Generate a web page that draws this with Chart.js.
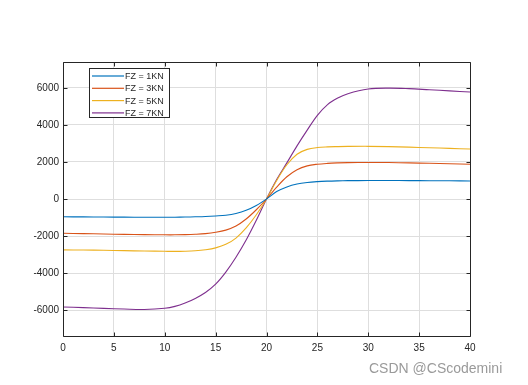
<!DOCTYPE html>
<html>
<head>
<meta charset="utf-8">
<script src="https://cdn.jsdelivr.net/npm/chart.js@4.4.1/dist/chart.umd.min.js"></script>
<style>
  html, body { margin: 0; padding: 0; background: #fff; }
  #wrap { position: relative; width: 528px; height: 385px; }
  #wm { position: absolute; left: 369px; top: 360px; font-family: "Liberation Sans", Arial, sans-serif; font-size: 14px; color: #9a9a9a; white-space: nowrap; }
</style>
</head>
<body>
<div id="wrap">
  <canvas id="c" width="528" height="385"></canvas>
  <div id="wm">CSDN @CScodemini</div>
</div>
<script>
const xs = [0,2,4,6,8,10,11,12,13,14,15,16,17,18,19,20,21,22,23,24,25,26,27,28,30,32,34,36,38,40];
const labels = ['FZ = 1KN', 'FZ = 3KN', 'FZ = 5KN', 'FZ = 7KN'];
const fz1 = [-960,-968,-975,-980,-985,-985,-983,-975,-962,-945,-915,-875,-780,-610,-350,0,400,650,810,895,940,965,980,990,998,998,994,988,982,975];
const fz3 = [-1850,-1870,-1890,-1910,-1925,-1935,-1935,-1925,-1905,-1870,-1800,-1680,-1460,-1080,-580,0,640,1200,1580,1790,1880,1925,1950,1965,1975,1968,1950,1930,1905,1880];
const fz5 = [-2750,-2755,-2770,-2790,-2810,-2825,-2830,-2820,-2795,-2740,-2640,-2450,-2110,-1560,-850,0,1000,1850,2420,2680,2780,2815,2830,2840,2845,2830,2800,2770,2735,2700];
const fz7 = [-5830,-5870,-5910,-5945,-5965,-5900,-5800,-5620,-5370,-5050,-4600,-3950,-3150,-2220,-1150,0,1050,1950,2870,3720,4520,5100,5450,5690,5940,5990,5960,5900,5840,5780];
const xTicks = [0,5,10,15,20,25,30,35,40];
const yTicks = [-6000,-4000,-2000,0,2000,4000,6000];
const colors = ['#0072BD', '#D95319', '#EDB120', '#7E2F8E'];
const series = [fz1, fz3, fz5, fz7];

const FONT = '"Liberation Sans", Arial, sans-serif';

const boxPlugin = {
  id: 'box',
  afterDraw(chart) {
    const ctx = chart.ctx;
    const a = chart.chartArea;
    const xs_ = chart.scales.x, ys_ = chart.scales.y;
    const L = Math.round(a.left) + 0.5, R = Math.round(a.right) + 0.5;
    const T = Math.round(a.top) + 0.5, B = Math.round(a.bottom) + 0.5;
    ctx.save();
    ctx.strokeStyle = '#262626';
    ctx.lineWidth = 1;
    ctx.beginPath();
    ctx.rect(L, T, R - L, B - T);
    ctx.stroke();
    ctx.beginPath();
    const tl = 4;
    xTicks.forEach(v => {
      const px = Math.round(xs_.getPixelForValue(v)) + 0.5;
      ctx.moveTo(px, B); ctx.lineTo(px, B - tl);
      ctx.moveTo(px, T); ctx.lineTo(px, T + tl);
    });
    yTicks.forEach(v => {
      const py = Math.round(ys_.getPixelForValue(v)) + 0.5;
      ctx.moveTo(L, py); ctx.lineTo(L + tl, py);
      ctx.moveTo(R, py); ctx.lineTo(R - tl, py);
    });
    ctx.stroke();

    // legend
    const lx = 89.5, ly = 68.5, lw = 80, lh = 49;
    ctx.fillStyle = '#ffffff';
    ctx.fillRect(lx, ly, lw, lh);
    ctx.strokeStyle = '#262626';
    ctx.strokeRect(lx, ly, lw, lh);
    ctx.font = '9px ' + FONT;
    ctx.textBaseline = 'middle';
    ctx.textAlign = 'left';
    chart.data.datasets.forEach((ds, i) => {
      const y = 76 + i * 12.3;
      ctx.strokeStyle = ds.borderColor;
      ctx.lineWidth = 1.2;
      ctx.beginPath();
      ctx.moveTo(92, y); ctx.lineTo(124, y);
      ctx.stroke();
      ctx.fillStyle = '#262626';
      ctx.fillText(ds.label, 125, y + 0.5);
    });
    ctx.restore();
  }
};

new Chart(document.getElementById('c'), {
  type: 'line',
  data: {
    datasets: series.map((s, i) => ({
      label: labels[i],
      data: xs.map((x, j) => ({ x: x, y: s[j] })),
      borderColor: colors[i],
      backgroundColor: colors[i],
      borderWidth: 1.1,
      pointRadius: 0,
      fill: false,
      tension: 0.35
    }))
  },
  options: {
    responsive: false,
    animation: false,
    layout: { padding: { left: 0, right: 58, top: 62, bottom: 29 } },
    plugins: { legend: { display: false }, tooltip: { enabled: false } },
    scales: {
      x: {
        type: 'linear', min: 0, max: 40,
        afterBuildTicks: s => { s.ticks = xTicks.map(v => ({ value: v })); },
        afterFit: s => { s.height = 20; },
        grid: { color: '#dedede', lineWidth: 1, drawTicks: false },
        border: { display: false },
        ticks: { font: { family: FONT, size: 10 }, color: '#262626', padding: 6, maxRotation: 0, callback: v => String(v) }
      },
      y: {
        type: 'linear', min: -7400, max: 7400,
        afterBuildTicks: s => { s.ticks = yTicks.map(v => ({ value: v })); },
        afterFit: s => { s.width = 63; },
        grid: { color: '#dedede', lineWidth: 1, drawTicks: false },
        border: { display: false },
        ticks: { font: { family: FONT, size: 10 }, color: '#262626', padding: 4, callback: v => String(v) }
      }
    }
  },
  plugins: [boxPlugin]
});
</script>
</body>
</html>
